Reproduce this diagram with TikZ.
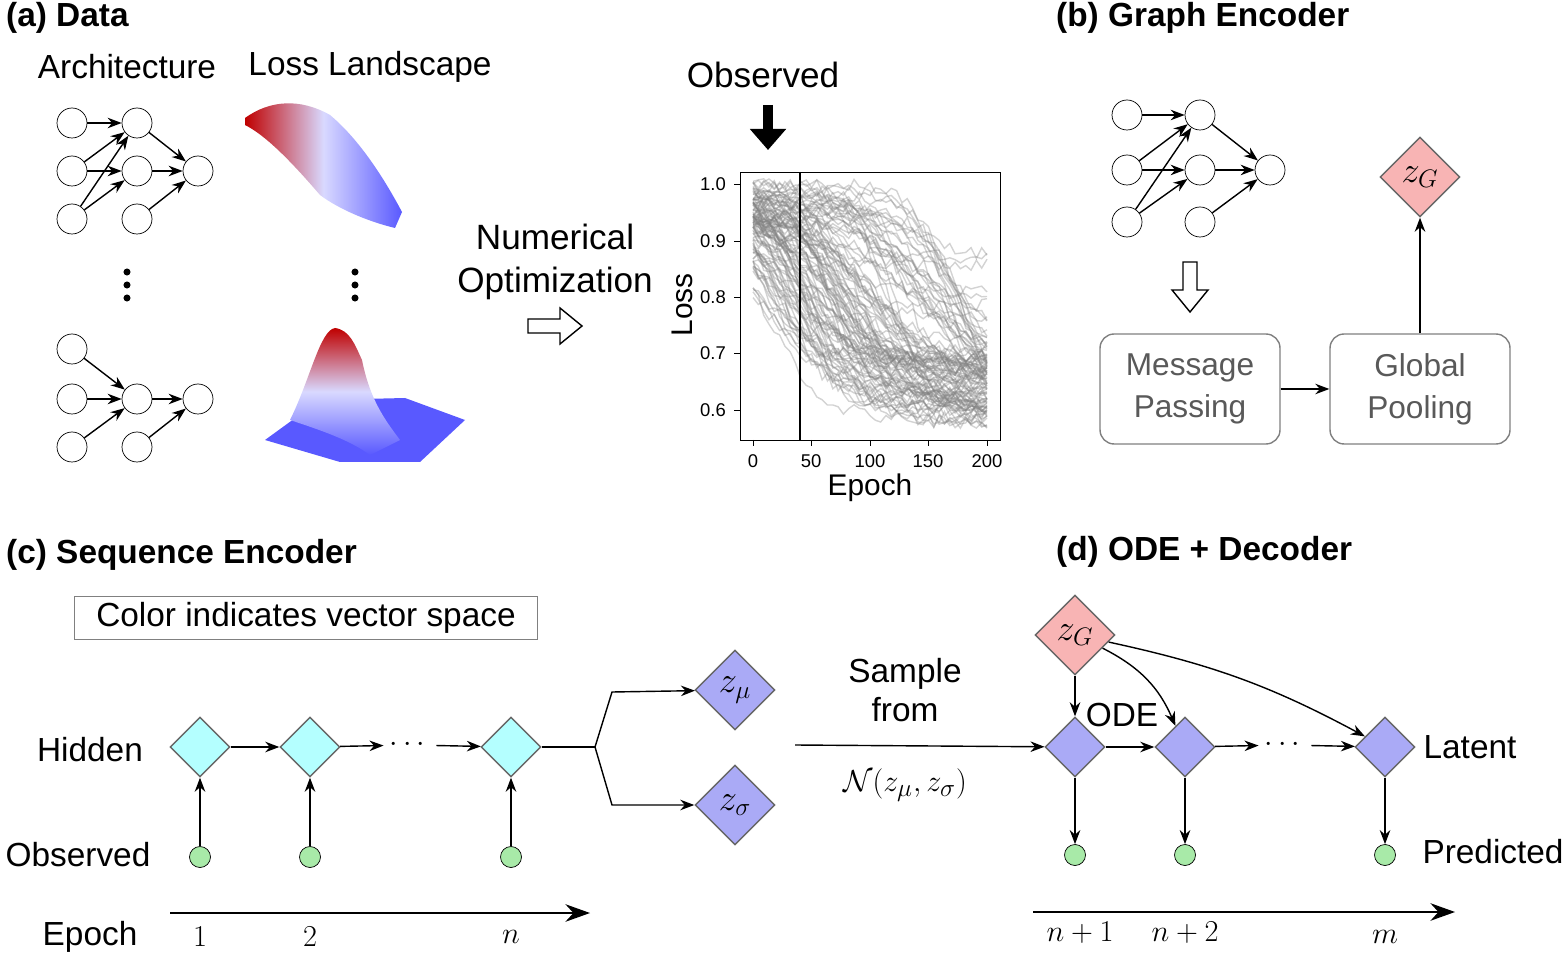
\documentclass[tikz,border=0pt]{standalone}
\usepackage{amsmath}
\usepackage{fontspec}
\setmainfont{Liberation Sans}
\usetikzlibrary{shapes.geometric,arrows.meta,positioning}
\definecolor{hidcol}{HTML}{B4FFFF}
\definecolor{latcol}{HTML}{AAAAF6}
\definecolor{gcol}{HTML}{F8B4B4}
\definecolor{obscol}{HTML}{A8EAA8}
\begin{document}
\begin{tikzpicture}[x=0.02cm,y=-0.02cm, >={Stealth[length=8pt, width=6pt]},
    neur/.style = {draw, circle, minimum size=0.6cm, inner sep=0pt},
    title/.style = {font=\bfseries\fontsize{19}{21}\selectfont, anchor=west},
    lab/.style = {font=\fontsize{19}{22}\selectfont},
    axlab/.style = {font=\fontsize{17}{20}\selectfont},
    tick/.style = {font=\fontsize{10.5}{12}\selectfont},
    dia/.style = {draw=gray!80!black, thick, diamond, minimum size=1.2cm, inner sep=0pt},
    bigdia/.style = {dia, minimum size=1.6cm, font=\fontsize{22}{24}\selectfont},
    obs/.style = {draw, circle, fill=obscol, minimum size=0.42cm, inner sep=0pt},
    vdot/.style = {fill, circle, inner sep=0pt, minimum size=4pt},
    gbox/.style = {draw=gray, thick, rounded corners=8pt, minimum width=3.6cm, minimum height=2.2cm, align=center, text=gray!70!black, font=\fontsize{18}{24}\selectfont}]
    \useasboundingbox (0,0) rectangle (1567,955);
    % ---- (a) data
    \node[title] at (0,18) {(a) Data};
    \node[lab] at (127,67) {Architecture};
    \node[lab] at (370,67) {Loss Landscape};
    \foreach \n/\x/\y in {a1/72/123, a2/72/171, a3/72/219, b1/137/123, b2/137/171, b3/137/219, c1/198/171,
                          d1/72/349, d2/72/399, d3/72/447, e1/137/399, e2/137/447, f1/198/399}
        \node[neur] (\n) at (\x,\y) {};
    \foreach \s/\t in {a1/b1, a2/b1, a2/b2, a3/b1, a3/b2, b1/c1, b2/c1, b3/c1, d1/e1, d2/e1, d3/e1, e1/f1, e2/f1}
        \draw[->, thick] (\s) -- (\t);
    \foreach \x in {127, 355}
        \foreach \y in {272, 285, 298}
            \node[vdot] at (\x,\y) {};
    % loss landscapes
    \shade[left color=red!75!black, right color=blue!65, middle color=white!85!blue]
        (245,118) .. controls (270,100) and (300,98) .. (330,115) .. controls (360,140) and (385,180) .. (402,212)
        -- (395,228) .. controls (370,222) and (340,210) .. (320,195) .. controls (290,160) and (265,135) .. (245,125) -- cycle;
    \fill[blue!65] (265,440) -- (320,400) -- (405,398) -- (465,420) -- (420,462) -- (340,462) -- cycle;
    \shade[top color=red!75!black, bottom color=blue!65, middle color=white!85!blue]
        (290,420) .. controls (310,380) and (320,330) .. (335,328) .. controls (350,330) and (355,345) .. (362,360)
        .. controls (370,400) and (385,420) .. (400,440) -- (370,455) .. controls (350,440) and (320,430) .. (290,420) -- cycle;
    \node[lab, align=center, font=\fontsize{20}{24}\selectfont] at (555,262) {Numerical\\Optimization};
    \draw[thick, fill=white] (528,319) -- (560,319) -- (560,308) -- (582,326) -- (560,344) -- (560,333) -- (528,333) -- cycle;
    \node[lab, font=\fontsize{20}{24}\selectfont] at (763,75) {Observed};
    \draw[-{Triangle[length=12pt, width=20pt]}, line width=6pt] (768,105) -- (768,150);
    % loss plot
    \begin{scope}
        \clip (740,172) rectangle (1000,440);
        \pgfmathsetseed{7}
        \foreach \i in {1,...,110} {
            \pgfmathsetmacro{\a}{0.93+0.07*rnd}
            \pgfmathsetmacro{\b}{(\i<8) ? 0.75+0.13*rnd : 0.57+0.13*rnd}
            \pgfmathsetmacro{\m}{10+170*rnd^1.6}
            \pgfmathsetmacro{\s}{12+30*rnd}
            \draw[gray, opacity=0.35, thick] plot[domain=0:200, samples=45]
                ({753+1.17*\x}, {184+565*(1-(\a-(\a-\b)/(1+exp(max(-8,min(8,-(\x-\m)/\s))))+0.012*rand))});
        }
    \end{scope}
    \draw (740,172) rectangle (1000,440);
    \draw[thick] (800,172) -- (800,440);
    \foreach \v/\y in {1.0/184, 0.9/241, 0.8/297, 0.7/353, 0.6/410} {
        \draw (740,\y) -- (734,\y);
        \node[tick, anchor=east] at (732,\y) {\v};
    }
    \foreach \v/\x in {0/753, 50/811, 100/870, 150/928, 200/987} {
        \draw (\x,440) -- (\x,446);
        \node[tick, anchor=north] at (\x,448) {\v};
    }
    \node[axlab, rotate=90] at (682,305) {Loss};
    \node[axlab] at (870,488) {Epoch};
    % ---- (b) graph encoder
    \node[title] at (1050,18) {(b) Graph Encoder};
    \foreach \n/\x/\y in {g1/1127/115, g2/1127/170, g3/1127/222, h1/1200/115, h2/1200/170, h3/1200/222, k1/1270/170}
        \node[neur] (\n) at (\x,\y) {};
    \foreach \s/\t in {g1/h1, g2/h1, g2/h2, g3/h1, g3/h2, h1/k1, h2/k1, h3/k1}
        \draw[->, thick] (\s) -- (\t);
    \draw[thick, fill=white] (1183,262) -- (1197,262) -- (1197,290) -- (1208,290) -- (1190,312) -- (1172,290) -- (1183,290) -- cycle;
    \node[gbox] (mp) at (1190,389) {Message\\Passing};
    \node[gbox] (gp) at (1420,389) {Global\\Pooling};
    \node[bigdia, fill=gcol] (zg1) at (1420,177) {$z_G$};
    \draw[->, thick] (mp) -- (gp);
    \draw[->, thick] (gp) -- (zg1);
    % ---- (c) sequence encoder
    \node[title] at (0,555) {(c) Sequence Encoder};
    \node[draw=gray, minimum width=9.26cm, minimum height=0.8cm, lab] at (306,618) {Color indicates vector space};
    \node[lab] at (90,750) {Hidden};
    \node[lab] at (78,855) {Observed};
    \node[lab] at (90,937) {Epoch};
    \foreach \n/\x in {1/200, 2/310, 3/511} {
        \node[dia, fill=hidcol] (h\n) at (\x,747) {};
        \node[obs] (o\n) at (\x,857) {};
        \draw[->, thick] (o\n) -- (h\n);
    }
    \node[lab] (hdots) at (410,745) {$\cdots$};
    \draw[->, thick] (h1) -- (h2);
    \draw[->, thick] (h2) -- (hdots);
    \draw[->, thick] (hdots) -- (h3);
    \node[bigdia, fill=latcol] (zmu) at (735,690) {$z_\mu$};
    \node[bigdia, fill=latcol] (zsig) at (735,805) {$z_\sigma$};
    \coordinate (split) at (595,747);
    \draw[thick] (h3) -- (split);
    \draw[->, thick] (split) -- (612,692) -- (zmu);
    \draw[->, thick] (split) -- (612,805) -- (zsig);
    \draw[-{Stealth[length=14pt, width=10pt]}, thick] (170,913) -- (590,913);
    \node[lab] at (200,937) {$1$};
    \node[lab] at (310,937) {$2$};
    \node[lab] at (511,937) {$n$};
    % ---- (d) ODE + decoder
    \node[lab, align=center] at (905,690) {Sample\\from};
    \node[lab] at (905,785) {$\mathcal{N}(z_\mu, z_\sigma)$};
    \node[title] at (1050,552) {(d) ODE + Decoder};
    \node[bigdia, fill=gcol] (zg2) at (1075,635) {$z_G$};
    \foreach \n/\x in {1/1075, 2/1185, 3/1385} {
        \node[dia, fill=latcol] (l\n) at (\x,747) {};
        \node[obs] (p\n) at (\x,855) {};
        \draw[->, thick] (l\n) -- (p\n);
    }
    \coordinate (samp) at (795,745);
    \draw[->, thick] (samp) -- (l1);
    \node[lab] (ldots) at (1285,745) {$\cdots$};
    \draw[->, thick] (l1) -- (l2);
    \draw[->, thick] (l2) -- (ldots);
    \draw[->, thick] (ldots) -- (l3);
    \draw[->, thick] (zg2) -- (l1);
    \draw[->, thick] (zg2) to[bend left=20] (l2);
    \draw[->, thick] (zg2) to[bend left=8] (l3);
    \node[lab] at (1122,715) {ODE};
    \node[lab] at (1470,747) {Latent};
    \node[lab] at (1493,852) {Predicted};
    \draw[-{Stealth[length=14pt, width=10pt]}, thick] (1033,912) -- (1455,912);
    \node[lab] at (1080,933) {$n+1$};
    \node[lab] at (1185,933) {$n+2$};
    \node[lab] at (1385,937) {$m$};
\end{tikzpicture}
\end{document}
